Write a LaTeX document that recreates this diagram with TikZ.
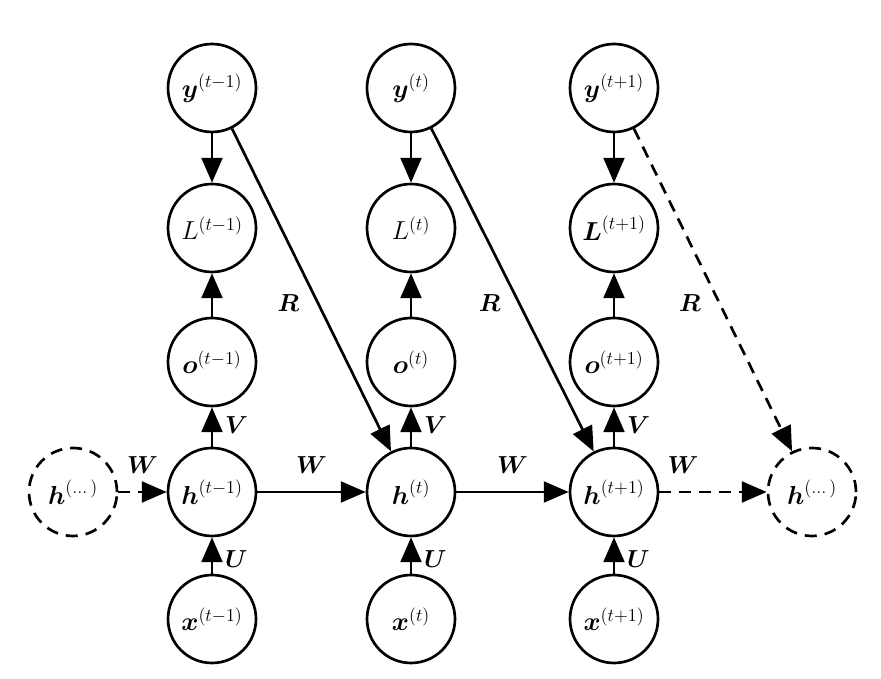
\RequirePackage{fix-cm}
\documentclass[tikz,border=0pt]{standalone}
\usepackage{amsmath}
\usepackage{amssymb}
\usetikzlibrary{arrows.meta}

\tikzset{
  unit/.style={circle, draw, line width=1.9pt, minimum size=2.2cm, inner sep=0pt, font=\fontsize{18.5}{22}\selectfont},
  ghost/.style={unit, dash pattern=on 0.3cm off 0.2cm},
  link/.style={line width=1.9pt, -{Triangle[length=0.62cm,width=0.52cm]}},
  ghostlink/.style={link, dash pattern=on 0.3cm off 0.2cm},
  weight/.style={font=\fontsize{17.5}{21}\selectfont},
}

\begin{document}
\begin{tikzpicture}
\useasboundingbox (0,0) rectangle (22.025,16.975);

% one column per time step
\foreach \col/\xpos/\stamp/\loss in {1/5.3/t-1/L, 2/10.275/t/L, 3/15.35/t+1/\boldsymbol{L}}{
	\node[unit] (y\col) at (\xpos,14.775) {$\boldsymbol{y}^{(\stamp)}$};
	\node[unit] (L\col) at (\xpos,11.275) {$\loss^{(\stamp)}$};
	\node[unit] (o\col) at (\xpos,7.925) {$\boldsymbol{o}^{(\stamp)}$};
	\node[unit] (h\col) at (\xpos,4.675) {$\boldsymbol{h}^{(\stamp)}$};
	\node[unit] (x\col) at (\xpos,1.5) {$\boldsymbol{x}^{(\stamp)}$};
}

% hidden states outside the window
\node[ghost] (hl) at (1.825,4.675) {$\boldsymbol{h}^{(\dots)}$};
\node[ghost] (hr) at (20.3,4.675) {$\boldsymbol{h}^{(\dots)}$};

\foreach \col in {1,2,3}{
	\draw[link] (y\col) -- (L\col);
	\draw[link] (o\col) -- (L\col);
	\draw[link] (h\col) -- node[weight, right=0.18cm, pos=0.55] {$\boldsymbol{V}$} (o\col);
	\draw[link] (x\col) -- node[weight, right=0.18cm, pos=0.4] {$\boldsymbol{U}$} (h\col);
}

\foreach \col/\nxt in {1/2, 2/3}{
	\draw[link] (h\col) -- node[weight, above=9pt] {$\boldsymbol{W}$} (h\nxt);
	\draw[link] (y\col) -- node[weight, left=9pt, pos=0.54] {$\boldsymbol{R}$} (h\nxt);
}

\draw[ghostlink] (hl) -- node[weight, above=9pt] {$\boldsymbol{W}$} (h1);
\draw[ghostlink] (h3) -- node[weight, above=9pt, pos=0.22] {$\boldsymbol{W}$} (hr);
\draw[ghostlink] (y3) -- node[weight, left=9pt, pos=0.54] {$\boldsymbol{R}$} (hr);

\end{tikzpicture}
\end{document}
